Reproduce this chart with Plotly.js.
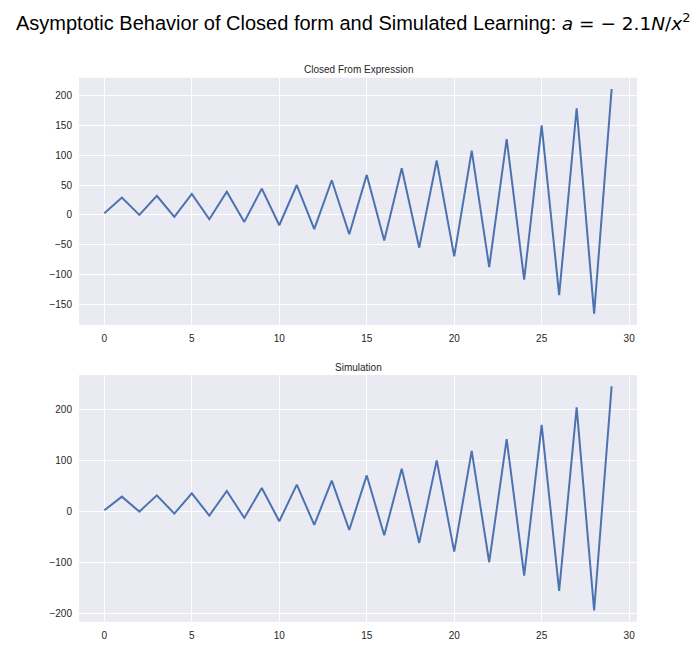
<!DOCTYPE html>
<html>
<head>
<meta charset="utf-8">
<script src="https://cdn.plot.ly/plotly-3.0.1.min.js"></script>
<style>
  html, body { margin: 0; padding: 0; background: #fff; }
  #chart { width: 697px; height: 645px; }
</style>
</head>
<body>
<div id="chart"></div>
<script>
// Valores
const steps = [0, 1, 2, 3, 4, 5, 6, 7, 8, 9, 10, 11, 12, 13, 14, 15, 16, 17, 18, 19, 20, 21, 22, 23, 24, 25, 26, 27, 28, 29];

const closedForm = [2.8, 29, 0, 32, -3.4, 35, -7.3, 38.7, -11.8, 44, -17.4, 50, -24, 58, -32.5, 67,
                    -43, 78, -55, 91, -69.5, 107.5, -87.4, 127, -108.7, 150, -134.5, 178.7, -165.8, 211];

const simulated = [2.6, 29.4, 0, 32, -3.9, 36, -7.8, 40.5, -12.4, 46.4, -19, 53, -26, 60.8, -36, 71,
                   -46.4, 84, -61.4, 100.6, -78.4, 119, -99.3, 142, -125.5, 170, -155.6, 204.6, -194, 246];

const xTicks = [0, 5, 10, 15, 20, 25, 30];
const topYTicks = [-150, -100, -50, 0, 50, 100, 150, 200];
const bottomYTicks = [-200, -100, 0, 100, 200];

const subplotTitles = ['Closed From Expression', 'Simulation'];

const lineColor = '#4C72B0';
const font = 'Liberation Sans, Arial, sans-serif';

// Rango con 5% de margen, como matplotlib
function padRange(vals) {
    const lo = Math.min(...vals), hi = Math.max(...vals);
    const pad = (hi - lo) * 0.05;
    return [lo - pad, hi + pad];
}

const data = [
    {
        x: steps, y: closedForm, type: 'scatter', mode: 'lines',
        line: {color: lineColor, width: 2},
        xaxis: 'x', yaxis: 'y', hoverinfo: 'skip'
    },
    {
        x: steps, y: simulated, type: 'scatter', mode: 'lines',
        line: {color: lineColor, width: 2},
        xaxis: 'x2', yaxis: 'y2', hoverinfo: 'skip'
    }
];

const xRange = padRange(steps);

const axisCommon = {
    showgrid: true,
    gridcolor: '#ffffff',
    gridwidth: 1,
    zeroline: false,
    showline: false,
    ticks: '',
    tickfont: {family: font, size: 10, color: '#262626'},
    fixedrange: true
};

const layout = {
    width: 697,
    height: 645,
    paper_bgcolor: '#ffffff',
    plot_bgcolor: '#EAEAF2',
    showlegend: false,
    margin: {l: 79, r: 60, t: 0, b: 0},
    font: {family: font, color: '#262626'},
    xaxis: Object.assign({}, axisCommon, {
        domain: [0, 1], anchor: 'y', range: xRange,
        tickvals: xTicks, ticklabelstandoff: 6
    }),
    yaxis: Object.assign({}, axisCommon, {
        domain: [0.4961, 0.8795], anchor: 'x', range: padRange(closedForm),
        tickvals: topYTicks, ticklabelstandoff: 6
    }),
    xaxis2: Object.assign({}, axisCommon, {
        domain: [0, 1], anchor: 'y2', range: xRange,
        tickvals: xTicks, ticklabelstandoff: 6
    }),
    yaxis2: Object.assign({}, axisCommon, {
        domain: [0.0361, 0.4186], anchor: 'x2', range: padRange(simulated),
        tickvals: bottomYTicks, ticklabelstandoff: 6
    }),
    annotations: [
        {
            text: 'Asymptotic Behavior of Closed form and Simulated Learning: ' +
                  '<span style="font-family:DejaVu Sans;font-size:18.5px"><i>a</i> = − 2.1<i>N</i>/<i>x</i><sup>2</sup></span>',
            xref: 'paper', yref: 'paper', x: 343 / 697, y: 1 - 22 / 645,
            xanchor: 'center', yanchor: 'middle', showarrow: false,
            font: {family: font, size: 20, color: '#000000'}
        },
        {
            text: subplotTitles[0],
            xref: 'paper', yref: 'paper', x: 0.5, y: 1 - 70 / 645,
            xanchor: 'center', yanchor: 'middle', showarrow: false,
            font: {family: font, size: 10, color: '#262626'}
        },
        {
            text: subplotTitles[1],
            xref: 'paper', yref: 'paper', x: 0.5, y: 1 - 367 / 645,
            xanchor: 'center', yanchor: 'middle', showarrow: false,
            font: {family: font, size: 10, color: '#262626'}
        }
    ]
};

Plotly.newPlot('chart', data, layout, {displayModeBar: false, staticPlot: true});
</script>
</body>
</html>
